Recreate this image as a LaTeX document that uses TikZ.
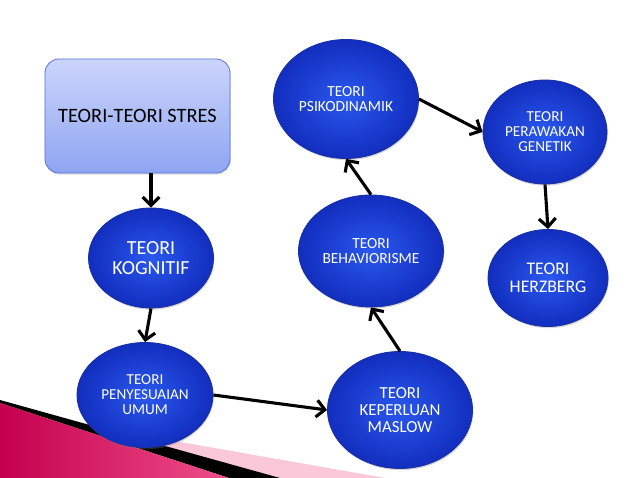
\documentclass[tikz,border=0pt]{standalone}
\usepackage{fontspec}
\setmainfont{Carlito}
\usetikzlibrary{shapes.geometric, arrows.meta, shadows}

\definecolor{teorihi}{RGB}{42,88,238}
\definecolor{teorilo}{RGB}{18,46,190}
\definecolor{teoriedge}{RGB}{24,48,165}
\definecolor{stresTop}{RGB}{204,213,251}
\definecolor{stresBot}{RGB}{142,165,242}
\definecolor{stresEdge}{RGB}{88,118,214}
\definecolor{pinkdark}{RGB}{196,0,78}
\definecolor{pinklight}{RGB}{238,78,138}
\definecolor{pinkpale}{RGB}{250,200,216}

\newcommand{\fsz}[2]{\fontsize{#1}{#2}\selectfont}

\tikzset{
  teori/.style 2 args={ellipse, draw=teoriedge, line width=0.6pt,
    inner color=teorihi, outer color=teorilo, text=white, align=center,
    inner sep=0pt, minimum width=#1*0.025cm, minimum height=#2*0.025cm,
    drop shadow={opacity=0.3, shadow xshift=0.6pt, shadow yshift=-1.2pt}},
  conn/.style={line width=2.2pt, -{Straight Barb[length=6pt, width=12pt]}},
}

\begin{document}
\begin{tikzpicture}[x=0.025cm, y=-0.025cm]
\useasboundingbox[fill=white] (0,0) rectangle (638,478);
% band in the lower left corner
\fill[pinkpale] (95,427) -- (385,478) -- (280,478) -- cycle;
\fill[black] (0,400) -- (280,478) -- (229,478) -- (0,403) -- cycle;
\shade[left color=pinkdark, right color=pinklight] (0,403) -- (229,478) -- (0,478) -- cycle;

\node[rectangle, rounded corners=10pt, draw=stresEdge, line width=0.6pt,
  top color=stresTop, bottom color=stresBot, minimum width=4.625cm, minimum height=2.85cm,
  drop shadow={opacity=0.25, shadow xshift=0.6pt, shadow yshift=-1.2pt},
  font=\fsz{14.5}{16}] (stres) at (137.5,116) {TEORI-TEORI STRES};

\node[teori={145}{119}, font=\fsz{11}{11}] (psiko) at (346,99) {TEORI\\PSIKODINAMIK};
\node[teori={124}{104}, font=\fsz{10.8}{10.6}] (genetik) at (545,132) {TEORI\\PERAWAKAN\\GENETIK};
\node[teori={125}{100}, font=\fsz{14.2}{14.5}] (kognitif) at (151,258) {TEORI\\KOGNITIF};
\node[teori={145}{112}, font=\fsz{11}{11}] (behav) at (371,251) {TEORI\\BEHAVIORISME};
\node[teori={120}{97}, font=\fsz{12.6}{13}] (herzberg) at (548,278) {TEORI\\HERZBERG};
\node[teori={136}{105}, font=\fsz{10.8}{10.6}] (umum) at (145,395) {TEORI\\PENYESUAIAN\\UMUM};
\node[teori={145}{117}, font=\fsz{12}{12.2}] (maslow) at (400,410) {TEORI\\KEPERLUAN\\MASLOW};

\draw[conn] (stres.south -| kognitif.north) -- (kognitif.north);
\draw[conn] (kognitif.south) -- (umum.north);
\draw[conn] (umum.east) -- (maslow.west);
\draw[conn] (maslow.north) -- (behav.south);
\draw[conn] (behav.north) -- (psiko.south);
\draw[conn] (psiko.east) -- (genetik.west);
\draw[conn] (genetik.south) -- (herzberg.north);
\end{tikzpicture}
\end{document}
